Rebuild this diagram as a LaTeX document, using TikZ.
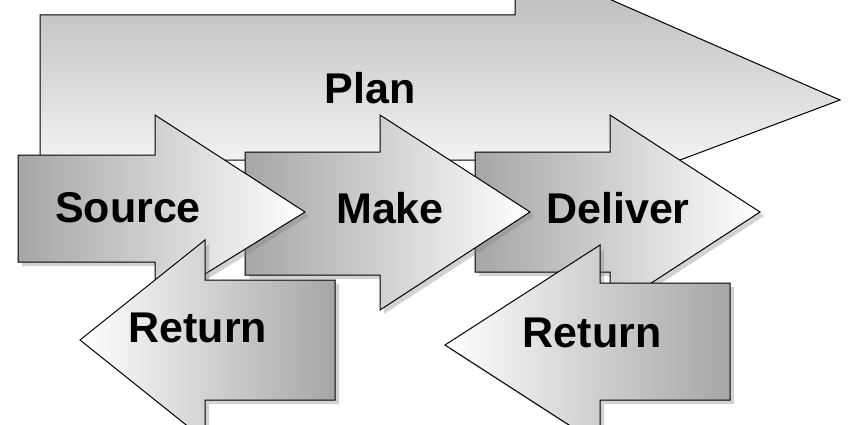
\documentclass[tikz,border=0pt]{standalone}
\usepackage{fontspec}
\setmainfont{Liberation Sans}
\usetikzlibrary{shadows}

\tikzset{
  flow/.style={draw=black,line width=1pt,left color=gray!70,right color=white,
    drop shadow={shadow xshift=4pt,shadow yshift=-4pt,opacity=0.35}},
  back/.style={draw=black,line width=1pt,left color=white,right color=gray!70,
    drop shadow={shadow xshift=4pt,shadow yshift=-4pt,opacity=0.35}},
  word/.style={font=\bfseries\fontsize{43}{48}\selectfont}
}

\begin{document}
\begin{tikzpicture}[x=1pt,y=-1pt]
  \useasboundingbox (0,0) rectangle (850,425);
  \fill [white] (0,0) rectangle (850,425);

  % plan
  \path [draw=black,line width=1pt,top color=gray!50,bottom color=gray!10]
    (40,15) -- (515,15) -- (515,-5) -- (600,-5) -- (840,100) -- (680,160) -- (40,160) -- cycle;
  \node [word] (plan) at (370,88) {Plan};

  % deliver, make, source
  \path [flow] (475,152) -- (610,152) -- (610,115) -- (760,212) -- (610,310) -- (610,272) -- (475,272) -- cycle;
  \path [flow] (245,152) -- (380,152) -- (380,115) -- (530,212) -- (380,310) -- (380,275) -- (245,275) -- cycle;
  \path [flow] (18,155) -- (155,155) -- (155,115) -- (305,212) -- (155,305) -- (155,262) -- (18,262) -- cycle;
  \node [word] (source) at (128,208) {Source};
  \node [word] (make) at (390,208) {Make};
  \node [word] (deliver) at (618,208) {Deliver};

  % returns
  \path [back] (335,280) -- (205,280) -- (205,240) -- (80,340) -- (205,440) -- (205,400) -- (335,400) -- cycle;
  \path [back] (730,283) -- (600,283) -- (600,245) -- (445,345) -- (600,445) -- (600,400) -- (730,400) -- cycle;
  \node [word] (returnA) at (198,328) {Return};
  \node [word] (returnB) at (592,333) {Return};
\end{tikzpicture}
\end{document}
